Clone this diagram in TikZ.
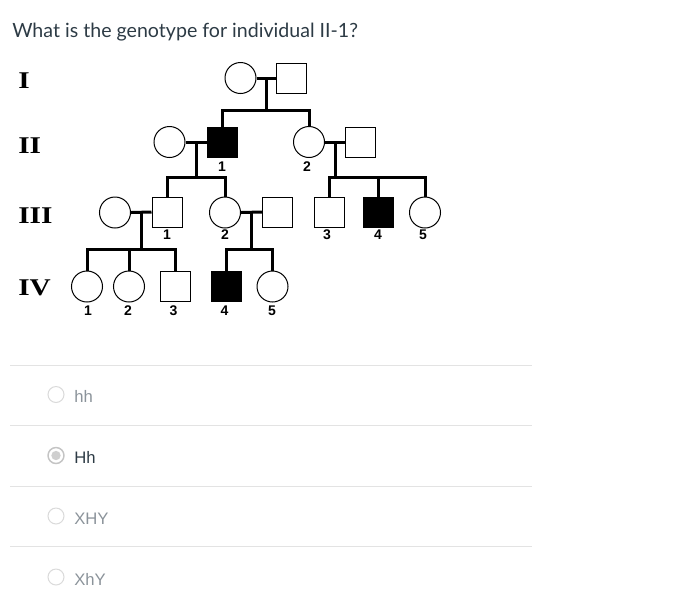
\documentclass[tikz,border=0pt]{standalone}
\usepackage{fontspec}
\setmainfont{Liberation Serif}
\newfontfamily\latofont{Lato}
\newfontfamily\arialfont{Liberation Sans}
\usetikzlibrary{calc}
\definecolor{titlecol}{HTML}{2D3B45}
\definecolor{dimcol}{HTML}{8B939A}
\definecolor{sepcol}{HTML}{E3E3E3}
\definecolor{radiocol}{HTML}{DADADA}
\definecolor{radiosel}{HTML}{C4C4C4}
\definecolor{radiodot}{HTML}{CFCFCF}
\newcommand{\genlab}[1]{\scalebox{1.22}[1]{#1}}
\begin{document}
\begin{tikzpicture}[x=0.75pt,y=-0.75pt,
  female/.style={circle,draw,line width=0.75pt,minimum size=23.25pt,inner sep=0pt},
  male/.style={rectangle,draw,line width=0.75pt,minimum size=22.5pt,inner sep=0pt},
  affected/.style={fill=black},
  conn/.style={line width=2.25pt},
  gen/.style={font=\fontsize{18}{18}\selectfont\bfseries,anchor=base west,inner sep=0pt},
  num/.style={font=\arialfont\fontsize{10.5}{10.5}\selectfont\bfseries,inner sep=0pt},
  radio/.style={circle,draw=radiocol,line width=0.75pt,minimum size=12pt,inner sep=0pt,fill=white},
  answer/.style={font=\arialfont\fontsize{12.5}{12.5}\selectfont,anchor=base west,inner sep=0pt,text=dimcol},
  sep/.style={draw=sepcol,line width=0.75pt}]
\useasboundingbox (0,0) rectangle (678,594);

% title
\node[font=\latofont\fontsize{14.7}{14.7}\selectfont,text=titlecol,anchor=base west,inner sep=0pt] (title) at (12,37) {What is the genotype for individual II-1?};

% generation labels
\node[gen] (gI) at (18,88.5) {\genlab{I}};
\node[gen] (gII) at (18,153) {\genlab{II}};
\node[gen] (gIII) at (18,223) {\genlab{III}};
\node[gen] (gIV) at (18,295) {\genlab{IV}};

% Generation I
\node[female] (I1) at (240.5,78) {};
\node[male] (I2) at (291,78) {};
% Generation II
\node[female] (IIs) at (169.5,142) {};
\node[male,affected] (II1) at (222.5,142) {};
\node[female] (II2) at (309,142) {};
\node[male] (IIs2) at (360.5,142) {};
% Generation III
\node[female] (IIIs) at (115,212.5) {};
\node[male] (III1) at (167,212) {};
\node[female] (III2) at (225,212.5) {};
\node[male] (IIIs2) at (277.5,212) {};
\node[male] (III3) at (329,212) {};
\node[male,affected] (III4) at (378.5,212) {};
\node[female] (III5) at (425,212.5) {};
% Generation IV
\node[female] (IV1) at (87,286.5) {};
\node[female] (IV2) at (129,286.5) {};
\node[male] (IV3) at (175.5,286.5) {};
\node[male,affected] (IV4) at (226,286.5) {};
\node[female] (IV5) at (272.5,286.5) {};

% numbers
\node[num] (nII1) at (222,166.5) {1};
\node[num] (nII2) at (307,166.5) {2};
\node[num] (nIII1) at (167,235) {1};
\node[num] (nIII2) at (225,235) {2};
\node[num] (nIII3) at (327,235) {3};
\node[num] (nIII4) at (378,235) {4};
\node[num] (nIII5) at (423,235) {5};
\node[num] (nIV1) at (88,311) {1};
\node[num] (nIV2) at (128,311) {2};
\node[num] (nIV3) at (173.5,311) {3};
\node[num] (nIV4) at (224.5,311) {4};
\node[num] (nIV5) at (272,311) {5};

% sibship levels
\coordinate (y1) at (0,110);
\coordinate (y2) at (0,177);
\coordinate (y3) at (0,249);

% family I
\draw[conn] (I1.east) -- (I2.west);
\coordinate (m1) at ($(I1.east)!0.5!(I2.west)$);
\draw[conn] (m1) -- (m1 |- y1);
\draw[conn] (II1.north) -- (II1.north |- y1) -- (II2.north |- y1) -- (II2.north);

% family II-1
\draw[conn] (IIs.east) -- (II1.west);
\coordinate (m2) at ($(IIs.east)!0.5!(II1.west)$);
\draw[conn] (m2) -- (m2 |- y2);
\draw[conn] (III1.north) -- (III1.north |- y2) -- (III2.north |- y2) -- (III2.north);

% family II-2
\draw[conn] (II2.east) -- (IIs2.west);
\coordinate (m3) at ($(II2.east)!0.5!(IIs2.west)$);
\draw[conn] (m3) -- (m3 |- y2);
\draw[conn] (III3.north) -- (III3.north |- y2) -- (III5.north |- y2) -- (III5.north);
\draw[conn] (III4.north) -- (III4.north |- y2);

% family III-1
\draw[conn] (IIIs.east) -- (III1.west);
\coordinate (m4) at ($(IIIs.east)!0.5!(III1.west)$);
\draw[conn] (m4) -- (m4 |- y3);
\draw[conn] (IV1.north) -- (IV1.north |- y3) -- (IV3.north |- y3) -- (IV3.north);
\draw[conn] (IV2.north) -- (IV2.north |- y3);

% family III-2
\draw[conn] (III2.east) -- (IIIs2.west);
\coordinate (m5) at ($(III2.east)!0.5!(IIIs2.west)$);
\draw[conn] (m5) -- (m5 |- y3);
\draw[conn] (IV4.north) -- (IV4.north |- y3) -- (IV5.north |- y3) -- (IV5.north);

% separators
\draw[sep] (10,365) -- (532,365);
\draw[sep] (10,425.5) -- (532,425.5);
\draw[sep] (10,486.5) -- (532,486.5);
\draw[sep] (10,546.5) -- (532,546.5);

% answers
\node[radio] (r1) at (56,394.5) {};
\node[answer] (a1) at (74,402) {hh};
\node[radio,draw=radiosel,line width=1.1pt] (r2) at (56,455.5) {};
\node[circle,fill=radiodot,minimum size=7pt,inner sep=0pt] (r2dot) at (r2.center) {};
\node[answer,text=titlecol] (a2) at (74,463.5) {Hh};
\node[radio] (r3) at (56,516) {};
\node[answer] (a3) at (74,524) {XHY};
\node[radio] (r4) at (56,577) {};
\node[answer] (a4) at (74,585) {XhY};
\end{tikzpicture}
\end{document}
